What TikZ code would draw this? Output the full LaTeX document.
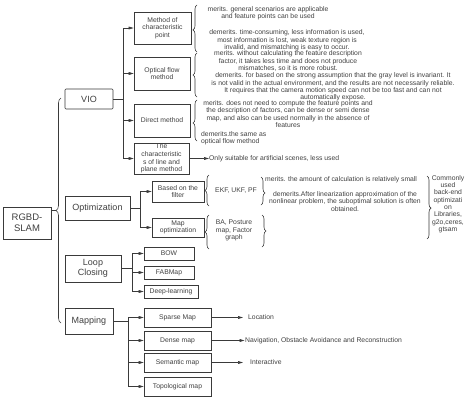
\documentclass[tikz,border=0pt]{standalone}
\usepackage{fontspec}
\setmainfont{Liberation Sans}
\usetikzlibrary{arrows.meta,decorations.pathreplacing}
\definecolor{ln}{HTML}{3A3A3A}
\definecolor{tx}{HTML}{404040}
\tikzset{
 every node/.style={text=tx},
 lvzero/.style={draw=ln, line width=0.7pt, font=\fontsize{9.5}{11}\selectfont, align=center, inner sep=0pt},
 lvone/.style={draw=ln, line width=0.7pt, font=\fontsize{9}{10.5}\selectfont, align=center, inner sep=0pt},
 lvtwo/.style={draw=ln, line width=0.7pt, font=\fontsize{6.8}{7.6}\selectfont, align=center, inner sep=0pt},
 note/.style={font=\fontsize{6.8}{7.3}\selectfont, align=center, inner sep=0pt},
 conn/.style={draw=ln, line width=0.6pt},
 arr/.style={conn, -{Triangle[length=5pt,width=2.8pt]}},
 br/.style={draw=ln, line width=0.6pt, decorate, decoration={brace, amplitude=4pt, aspect=#1}},
 br/.default=0.5,
}
\begin{document}
\begin{tikzpicture}[x=1pt,y=-1pt]
\useasboundingbox[fill=white] (0,0) rectangle (474,407);

% level 0 and 1
\node[lvzero, minimum width=48pt, minimum height=32pt] (rgbd) at (27,223) {RGBD-\\SLAM};
\node[lvone, minimum width=48pt, minimum height=20pt, rounded corners=1pt] (vio) at (89,99) {VIO};
\node[lvone, minimum width=65pt, minimum height=24pt] (opt) at (97.5,208) {Optimization};
\node[lvone, minimum width=56pt, minimum height=27pt] (loop) at (93,268.5) {Loop\\Closing};
\node[lvone, minimum width=48pt, minimum height=26pt] (map) at (89,321) {Mapping};

% big brace
\draw[br, decoration={amplitude=5pt}] (61,323) -- (61,98);
\coordinate (bt) at (56,210.5);
\draw[conn] (rgbd.east |- bt) -- (bt);

% VIO children
\node[lvtwo, minimum width=57pt, minimum height=32pt] (m1) at (162.5,28) {Method of\\characteristic\\point};
\node[lvtwo, minimum width=56pt, minimum height=33pt] (m2) at (162,73.5) {Optical flow\\method};
\node[lvtwo, minimum width=56pt, minimum height=33pt] (m3) at (162,120.5) {Direct method};
\node[lvtwo, minimum width=55pt, minimum height=31pt] (ch) at (161.5,158.5) {The\\characteristic\\s of line and\\plane method};
\coordinate (vj) at (123,99);
\draw[conn] (vio.east) -- (vj);
\draw[conn] (vj |- m1.west) -- (vj |- ch.west);
\draw[arr] (vj |- m1.west) -- (m1.west);
\draw[arr] (vj |- m2.west) -- (m2.west);
\draw[arr] (vj |- m3.west) -- (m3.west);
\draw[arr] (vj |- ch.west) -- (ch.west);

% VIO notes
\draw[br=0.47] (197,52) -- (197,5);
\node[note] (n1a) at (268,13) {merits. general scenarios are applicable\\and feature points can be used};
\node[note] (n1b) at (287,40.5) {demerits. time-consuming, less information is used,\\most information is lost, weak texture region is\\invalid, and mismatching is easy to occur.};
\draw[br=0.5] (197,97) -- (197,53);
\node[note] (n2a) at (288,61) {merits. without calculating the feature description\\factor, it takes less time and does not produce\\mismatches, so it is more robust.};
\node[note] (n2b) at (333,87) {demerits. for based on the strong assumption that the gray level is invariant. It\\is not valid in the actual environment, and the results are not necessarily reliable.\\It requires that the camera motion speed can not be too fast and can not\\automatically expose.};
\draw[br=0.44] (197,141) -- (197,100);
\node[note] (n3a) at (288,114) {merits. does not need to compute the feature points and\\the description of factors, can be dense or semi dense\\map, and also can be used normally in the absence of\\features};
\node[note, anchor=west, align=left] (n3b) at (201,138) {demerits.the same as\\optical flow method};
\node[note, anchor=west] (only) at (209,158.5) {Only suitable for artificial scenes, less used};
\draw[arr] (ch.east) -- (only.west);

% Optimization children
\node[lvtwo, minimum width=52pt, minimum height=21pt] (fil) at (178,191.5) {Based on the\\filter};
\node[lvtwo, minimum width=52pt, minimum height=19pt] (mo) at (178,227.5) {Map\\optimization};
\coordinate (oj) at (140,208);
\draw[conn] (opt.east) -- (oj);
\draw[conn] (oj |- fil.west) -- (oj |- mo.west);
\draw[arr] (oj |- fil.west) -- (fil.west);
\draw[arr] (oj |- mo.west) -- (mo.west);

\draw[br] (209,206) -- (209,175);
\node[note] (ekf) at (236,190.5) {EKF, UKF, PF};
\draw[br=0.57] (261,177) -- (261,205);
\node[note, anchor=west] (fm) at (265,180) {merits. the amount of calculation is relatively small};
\node[note] (fd) at (345,201.5) {demerits.After linearization approximation of the\\nonlinear problem, the suboptimal solution is often\\obtained.};
\draw[br=0.51] (427,176) -- (427,239);
\node[note] (lib) at (448,204) {Commonly\\used\\back-end\\optimizati\\on\\Libraries,\\g2o,ceres,\\gtsam};

\draw[br] (209,249) -- (209,215);
\node[note] (ba) at (234,230.5) {BA, Posture\\map, Factor\\graph};
\draw[br] (262,215) -- (262,247);

% Loop closing children
\node[lvtwo, minimum width=50pt, minimum height=13pt] (bow) at (169,253.5) {BOW};
\node[lvtwo, minimum width=50pt, minimum height=13pt] (fab) at (169,272.5) {FABMap};
\node[lvtwo, minimum width=54pt, minimum height=13pt] (deep) at (171,291.5) {Deep-learning};
\coordinate (lj) at (132,268.5);
\draw[conn] (loop.east) -- (lj);
\draw[conn] (lj |- bow.west) -- (lj |- deep.west);
\draw[arr] (lj |- bow.west) -- (bow.west);
\draw[arr] (lj |- fab.west) -- (fab.west);
\draw[arr] (lj |- deep.west) -- (deep.west);

% Mapping children
\node[lvtwo, minimum width=67pt, minimum height=19pt] (sp) at (177.5,317.5) {Sparse Map};
\node[lvtwo, minimum width=67pt, minimum height=19pt] (de) at (177.5,340.5) {Dense map};
\node[lvtwo, minimum width=67pt, minimum height=19pt] (se) at (177.5,362.5) {Semantic map};
\node[lvtwo, minimum width=67pt, minimum height=19pt] (to) at (177.5,386.5) {Topological map};
\coordinate (mj) at (128,321);
\draw[conn] (map.east) -- (mj);
\draw[conn] (mj |- sp.west) -- (mj |- to.west);
\draw[arr] (mj |- sp.west) -- (sp.west);
\draw[arr] (mj |- de.west) -- (de.west);
\draw[arr] (mj |- se.west) -- (se.west);
\draw[arr] (mj |- to.west) -- (to.west);

\node[note, anchor=west] (loc) at (248,317.5) {Location};
\node[note, anchor=west] (nav) at (245,340.5) {Navigation, Obstacle Avoidance and Reconstruction};
\node[note, anchor=west] (inter) at (250,362.5) {Interactive};
\draw[arr, shorten >=5pt] (sp.east) -- (loc.west);
\draw[arr, shorten >=0.5pt] (de.east) -- (nav.west);
\draw[arr, shorten >=7pt] (se.east) -- (inter.west);
\end{tikzpicture}
\end{document}
